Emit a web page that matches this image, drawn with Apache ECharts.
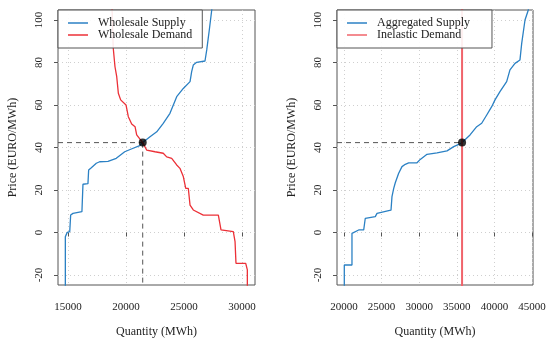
<!DOCTYPE html>
<html>
<head>
<meta charset="utf-8">
<script src="https://cdn.jsdelivr.net/npm/echarts@6/dist/echarts.min.js"></script>
<style>html,body{margin:0;padding:0;background:#fff;}#c{width:550px;height:343px;}</style>
</head>
<body>
<div id="c"></div>
<script>
// ---- Data ----
var supplyLeftQ = [14770,14770,14850,14940,15150,15230,15430,16200,16290,16720,16780,17010,17440,17730,18450,19160,19890,20460,21180,21440,22070,22650,23210,23790,24370,24940,25520,25660,25800,26090,26810,26960,27180,27390,27500];
var supplyLeftP = [-30,-2,-1,0.1,0.4,8.2,9,9.8,22.7,23,29.4,30.5,32.6,33.3,33.5,34.9,38,39.3,40.9,42.3,45.1,47.4,51.4,56.1,63.9,67.8,71,75.7,78.8,80.1,80.7,85.9,95.3,104.7,110];

var demandLeftQ = [18770,18900,19050,19200,19340,19540,20000,20200,20490,20780,20920,21440,21780,22500,23210,23510,23940,24370,24650,24940,25150,25370,25520,25800,25950,26660,27960,28190,29250,29400,29480,30320,30460,30460];
var demandLeftP = [110,86.8,78,73.3,65.5,62.4,60,54.5,51.1,49.8,45.9,42.3,38.8,38,37.3,35.6,34.9,31.8,30.2,26.3,20.8,20.8,12.9,10.6,9.8,8.2,8.2,1.2,0.4,-4.3,-14.5,-14.5,-17.6,-30];

var supplyRightQ = [20040,20040,21060,21060,21290,21950,22620,22830,23060,24160,24390,25940,26250,26380,26610,26820,27270,27710,28150,28600,29710,30140,31040,32370,33700,34590,35560,35700,36760,37650,38310,38980,39640,40080,40740,41630,42070,42740,43400,43630,44070,44510,44700];
var supplyRightP = [-30,-15.3,-15.3,-0.4,0.4,1.2,1.2,6.7,7.5,7.5,9,10.3,10.5,16.9,20.8,23.4,27.9,31,32.1,32.8,32.8,34.4,36.8,37.5,38.4,40.4,41.9,42.3,45.9,49.8,51.4,55.3,59.2,62.4,66.3,71,76.5,79.6,81.2,89,100,104.7,110];

var inelasticDemandQ = 35700;
var equilibriumLeft = [21440, 42.3];
var equilibriumRight = [35700, 42.3];

var xTicksLeft = [15000, 20000, 25000, 30000];
var xTicksRight = [20000, 25000, 30000, 35000, 40000, 45000];
var yTicks = [-20, 0, 20, 40, 60, 80, 100];

var xRangeLeft = [14138, 31120];
var xRangeRight = [19069, 45133];
var yRange = [-24.7, 104.7];

var legendLeft = ['Wholesale Supply', 'Wholesale Demand'];
var legendRight = ['Aggregated Supply', 'Inelastic Demand'];

// ---- Helpers ----
function zip(a, b) { return a.map(function (v, i) { return [v, b[i]]; }); }
var FONT = "'Liberation Serif', serif";
var BLUE = '#2b81c4', RED = '#ec3037', RED2 = '#f0646b', AX = '#555';

function xAxisDef(grid, range, ticks) {
  return {
    gridIndex: grid, type: 'value', min: range[0], max: range[1],
    axisLine: { show: false },
    axisTick: { show: true, length: 4, customValues: ticks, lineStyle: { color: AX } },
    axisLabel: { customValues: ticks, fontSize: 11, color: '#222', margin: 17, fontFamily: FONT,
                 formatter: function (v) { return String(v); } },
    splitLine: { show: true, lineStyle: { type: [1, 3], color: '#cfcfcf', width: 1 } },
    name: 'Quantity (MWh)', nameLocation: 'middle', nameGap: 41,
    nameTextStyle: { fontSize: 12, color: '#222', fontFamily: FONT }
  };
}
function yAxisDef(grid) {
  return {
    gridIndex: grid, type: 'value', min: yRange[0], max: yRange[1],
    axisLine: { show: false },
    axisTick: { show: true, length: 4, customValues: yTicks, lineStyle: { color: AX } },
    axisLabel: { customValues: yTicks, fontSize: 11, color: '#222', margin: 13, rotate: 90, fontFamily: FONT,
                 formatter: function (v) { return String(v); } },
    splitLine: { show: true, lineStyle: { type: [1, 3], color: '#cfcfcf', width: 1 } },
    name: 'Price (EURO/MWh)', nameLocation: 'middle', nameGap: 39,
    nameTextStyle: { fontSize: 12, color: '#222', fontFamily: FONT }
  };
}
function legendDef(left, data, padRight) {
  return {
    data: data.map(function (n) { return { name: n, icon: 'rect' }; }),
    left: left, top: 10, orient: 'vertical',
    itemWidth: 20, itemHeight: 1.5, itemGap: 0,
    padding: [7, padRight, 7, 10],
    borderColor: AX, borderWidth: 1, borderRadius: 0,
    backgroundColor: 'rgba(255,255,255,0.9)',
    textStyle: { fontSize: 12, color: '#222', fontFamily: FONT, lineHeight: 12, padding: [0, 0, 0, 5] }
  };
}
function lineSeries(name, xi, data, color, width, dash, z) {
  return {
    name: name, type: 'line', xAxisIndex: xi, yAxisIndex: xi, data: data,
    symbol: 'none', showSymbol: false, silent: true, z: z || 2,
    lineStyle: { color: color, width: width, type: dash || 'solid' },
    itemStyle: { color: color }
  };
}

var option = {
  animation: false,
  grid: [
    { left: 58, right: 295, top: 10, bottom: 58, show: true, borderColor: AX, borderWidth: 1, backgroundColor: 'transparent' },
    { left: 337, right: 17, top: 10, bottom: 58, show: true, borderColor: AX, borderWidth: 1, backgroundColor: 'transparent' }
  ],
  xAxis: [xAxisDef(0, xRangeLeft, xTicksLeft), xAxisDef(1, xRangeRight, xTicksRight)],
  yAxis: [yAxisDef(0), yAxisDef(1)],
  legend: [legendDef(58, legendLeft, 10), legendDef(337, legendRight, 22)],
  series: [
    lineSeries('', 0, [[xRangeLeft[0], equilibriumLeft[1]], equilibriumLeft], '#555', 1, [5, 4], 1),
    lineSeries('', 0, [equilibriumLeft, [equilibriumLeft[0], yRange[0]]], '#555', 1, [5, 4], 1),
    lineSeries('Wholesale Supply', 0, zip(supplyLeftQ, supplyLeftP), BLUE, 1.3),
    lineSeries('Wholesale Demand', 0, zip(demandLeftQ, demandLeftP), RED, 1.3),
    { type: 'scatter', xAxisIndex: 0, yAxisIndex: 0, data: [equilibriumLeft], symbolSize: 8, itemStyle: { color: '#000' }, z: 5, silent: true },

    lineSeries('', 1, [[xRangeRight[0], equilibriumRight[1]], equilibriumRight], '#555', 1, [5, 4], 1),
    lineSeries('Aggregated Supply', 1, zip(supplyRightQ, supplyRightP), BLUE, 1.3),
    lineSeries('Inelastic Demand', 1, [[inelasticDemandQ, -30], [inelasticDemandQ, 110]], RED2, 2),
    { type: 'scatter', xAxisIndex: 1, yAxisIndex: 1, data: [equilibriumRight], symbolSize: 8, itemStyle: { color: '#000' }, z: 5, silent: true }
  ]
};
var chart = echarts.init(document.getElementById('c'), null, { renderer: 'canvas' });
chart.setOption(option);
</script>
</body>
</html>
